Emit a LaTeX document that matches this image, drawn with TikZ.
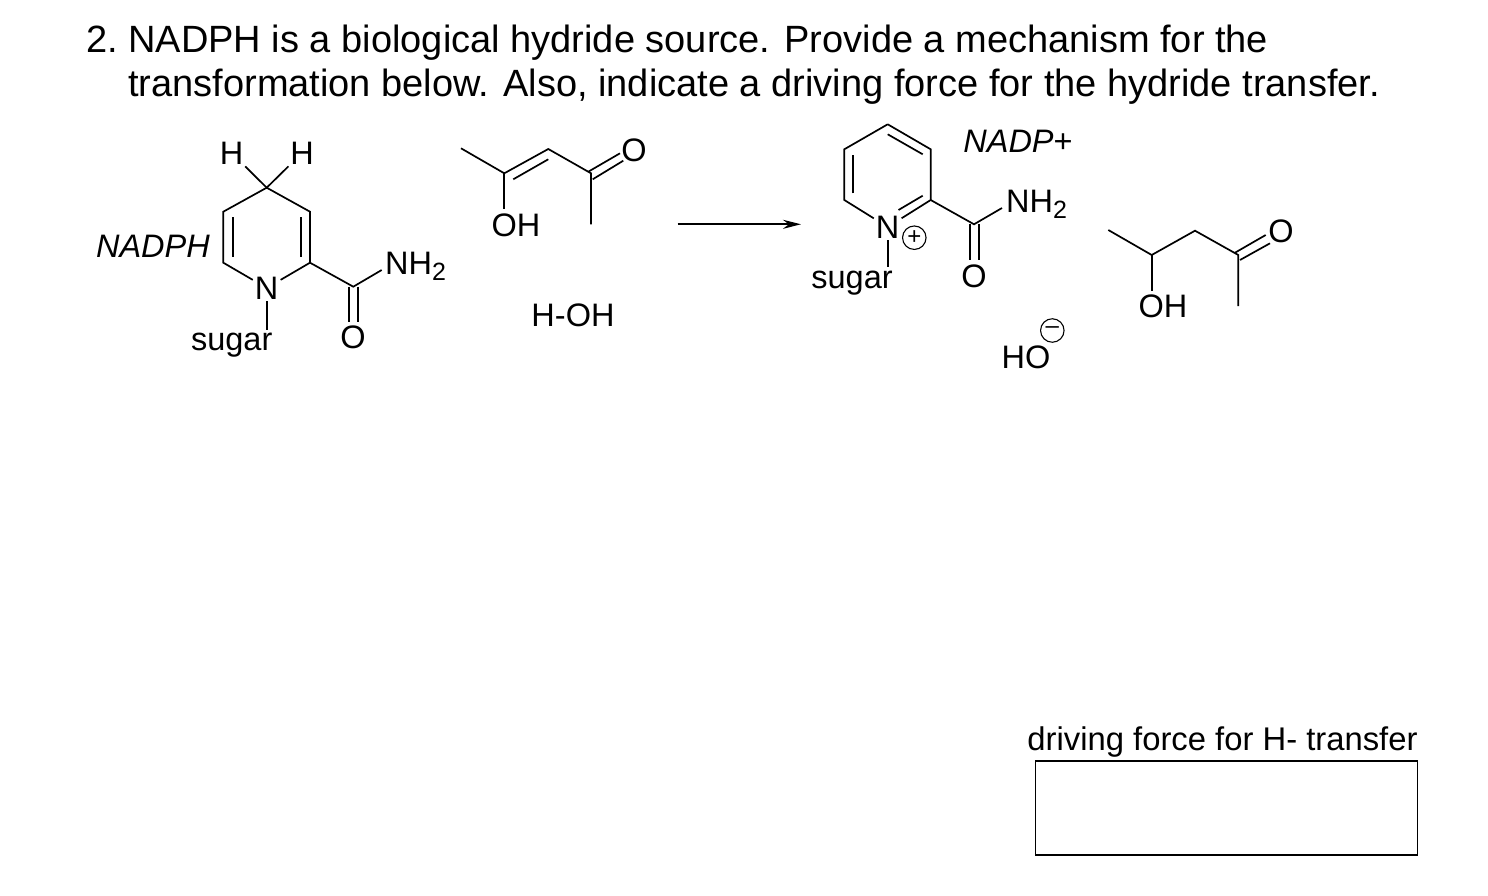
\documentclass[tikz,border=0pt]{standalone}
\usepackage{fontspec}
\setmainfont{Liberation Sans}
\usetikzlibrary{arrows.meta}
\newcommand{\subtwo}{\raisebox{-6pt}{\fontsize{25}{25}\selectfont 2}}
\tikzset{
    atom/.style={inner sep=2pt, font=\fontsize{32.5}{32.5}\selectfont},
    bond/.style={line width=1.7pt},
    charge/.style={circle, draw, line width=1.1pt, minimum size=23.5pt, inner sep=0pt, font=\fontsize{24}{24}\selectfont},
    question/.style={inner sep=0pt, anchor=base west, font=\fontsize{38}{38}\selectfont}
}

\begin{document}
\begin{tikzpicture}[x=1pt, y=-1pt, >={Stealth[length=18pt, width=9pt]}]
    \useasboundingbox (0, 0) rectangle (1488, 896);

    \node[question] (line1) at (86, 53){2.\ NADPH is a biological hydride source. Provide a mechanism for the};
    \node[question] (line2) at (128, 97){transformation below. Also, indicate a driving force for the hydride transfer.};

    % NADPH
    \coordinate (a1) at (266.7, 187.7);
    \coordinate (a2) at (310, 211.7);
    \coordinate (a3) at (310, 262.7);
    \coordinate (a4) at (223.3, 262.7);
    \coordinate (a5) at (223.3, 211.7);
    \coordinate (a6) at (353.3, 286.7);
    \coordinate (a7) at (381.7, 270);
    \coordinate (a8) at (266.7, 330);
    \coordinate (a2i) at (301, 217.3);
    \coordinate (a3i) at (301, 256.7);
    \coordinate (a4i) at (232.7, 256.7);
    \coordinate (a5i) at (232.7, 217.3);
    \coordinate (a6l) at (349, 286.7);
    \coordinate (a6r) at (357.7, 286.7);
    \coordinate (a9l) at (349, 322);
    \coordinate (a9r) at (357.7, 322);
    \node[atom] (aH1) at (231.7, 153){H};
    \node[atom] (aH2) at (302, 153){H};
    \node[atom] (aN) at (266.7, 288){N};
    \node[atom] (aO) at (353, 337.5){O};
    \node[atom, anchor=west, inner sep=0pt] (aNH) at (385, 266){NH\subtwo};
    \node[atom, inner sep=0pt] (asugar) at (231.7, 345){sugar};
    \node[atom, inner sep=0pt] (aname) at (153, 246.5){\textit{NADPH}};
    \draw[bond] (aH1) -- (a1) -- (aH2);
    \draw[bond] (a1) -- (a2) -- (a3) -- (aN) -- (a4) -- (a5) -- (a1);
    \draw[bond] (a2i) -- (a3i);
    \draw[bond] (a4i) -- (a5i);
    \draw[bond] (a3) -- (a6) -- (a7);
    \draw[bond] (a6l) -- (a9l);
    \draw[bond] (a6r) -- (a9r);
    \draw[bond] (aN) -- (a8);

    % enol
    \coordinate (b1) at (461, 148.3);
    \coordinate (b2) at (504.3, 173.3);
    \coordinate (b3) at (548.3, 149);
    \coordinate (b4) at (591, 173.3);
    \coordinate (b5) at (591, 224.3);
    \coordinate (b6) at (504.3, 209);
    \coordinate (b2i) at (513.3, 179.3);
    \coordinate (b3i) at (548.3, 159.3);
    \coordinate (b4u) at (588.3, 171.7);
    \coordinate (b7u) at (620, 153.3);
    \coordinate (b4d) at (592.7, 179.3);
    \coordinate (b7d) at (623.3, 160.7);
    \node[atom] (bO) at (634, 150){O};
    \node[atom, inner sep=0pt] (bOH) at (516, 225){OH};
    \node[atom, inner sep=0pt] (water) at (573, 315.5){H-OH};
    \draw[bond] (b1) -- (b2) -- (b3) -- (b4) -- (b5);
    \draw[bond] (b2i) -- (b3i);
    \draw[bond] (b2) -- (b6);
    \draw[bond] (b4u) -- (b7u);
    \draw[bond] (b4d) -- (b7d);

    \coordinate (arrowstart) at (677.7, 224.3);
    \coordinate (arrowend) at (801, 224.3);
    \draw[bond, ->] (arrowstart) -- (arrowend);

    % NADP+
    \coordinate (c1) at (887.7, 124.3);
    \coordinate (c2) at (930.7, 149.3);
    \coordinate (c3) at (930.7, 200);
    \coordinate (c4) at (844.3, 200);
    \coordinate (c5) at (844.3, 149.3);
    \coordinate (c6) at (974, 224.3);
    \coordinate (c7) at (1002, 208);
    \coordinate (c8) at (887.7, 266.7);
    \coordinate (c1i) at (887.7, 134.3);
    \coordinate (c2i) at (922.7, 154.3);
    \coordinate (c3i) at (922.7, 195.7);
    \coordinate (c9i) at (898.5, 210);
    \coordinate (c4i) at (853.3, 193.3);
    \coordinate (c5i) at (853.3, 155);
    \coordinate (c6l) at (970, 224.3);
    \coordinate (c6r) at (979, 224.3);
    \coordinate (c9l) at (970, 260);
    \coordinate (c9r) at (979, 260);
    \node[atom] (cN) at (887.7, 227){N};
    \node[charge] (cplus) at (914.3, 237.7){+};
    \node[atom] (cO) at (974, 276){O};
    \node[atom, anchor=west, inner sep=0pt] (cNH) at (1006, 204){NH\subtwo};
    \node[atom, inner sep=0pt] (csugar) at (852, 283){sugar};
    \node[atom, inner sep=0pt] (cname) at (1018, 141){\textit{NADP}+};
    \draw[bond] (c1) -- (c2) -- (c3) -- (cN) -- (c4) -- (c5) -- (c1);
    \draw[bond] (c1i) -- (c2i);
    \draw[bond] (c3i) -- (c9i);
    \draw[bond] (c4i) -- (c5i);
    \draw[bond] (c3) -- (c6) -- (c7);
    \draw[bond] (c6l) -- (c9l);
    \draw[bond] (c6r) -- (c9r);
    \draw[bond] (cN) -- (c8);

    \node[atom, inner sep=0pt] (hydroxide) at (1026, 357){HO};
    \node[charge] (cminus) at (1052.3, 330.5){--};

    % product
    \coordinate (d1) at (1108.3, 230);
    \coordinate (d2) at (1151.7, 255);
    \coordinate (d3) at (1195, 230.7);
    \coordinate (d4) at (1238.3, 255);
    \coordinate (d5) at (1238.3, 306);
    \coordinate (d6) at (1151.7, 291);
    \coordinate (d4u) at (1235, 252.7);
    \coordinate (d7u) at (1265.7, 235);
    \coordinate (d4d) at (1240, 260);
    \coordinate (d7d) at (1270, 243.3);
    \node[atom] (dO) at (1281, 231.7){O};
    \node[atom, inner sep=0pt] (dOH) at (1163, 306.7){OH};
    \draw[bond] (d1) -- (d2) -- (d3) -- (d4) -- (d5);
    \draw[bond] (d2) -- (d6);
    \draw[bond] (d4u) -- (d7u);
    \draw[bond] (d4d) -- (d7d);

    \node[inner sep=0pt, font=\fontsize{32.8}{32.8}\selectfont] (forcelabel) at (1222.5, 742){driving force for H- transfer};
    \node[draw, line width=1.2pt, minimum width=382pt, minimum height=94pt, inner sep=0pt] (forcebox) at (1226.8, 808){};

\end{tikzpicture}
\end{document}
